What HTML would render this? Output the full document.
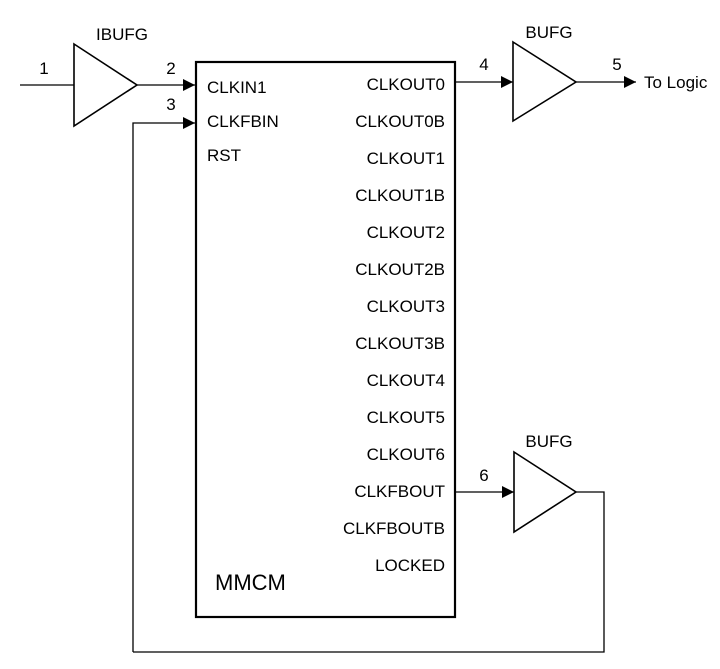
<!DOCTYPE html>
<html><head><style>html,body{margin:0;padding:0;background:#fff}svg{display:block}</style></head>
<body>
<svg width="720" height="669" viewBox="0 0 720 669" xmlns="http://www.w3.org/2000/svg" font-family="Liberation Sans, Arial, sans-serif" fill="#000">
<defs><marker id="a" viewBox="0 0 10 10" refX="10" refY="5" markerWidth="14" markerHeight="12" markerUnits="userSpaceOnUse" orient="auto"><path d="M0,0L10,5L0,10z" fill="#000"/></marker></defs>
<g stroke="#000" fill="none">
<rect x="196" y="62" width="259" height="555" stroke-width="2.2"/>
<path d="M74,44 L137,85 L74,126 Z" stroke-width="1.6"/>
<path d="M513,42 L576,82 L513,121 Z" stroke-width="1.6"/>
<path d="M514,452 L576,492 L514,532 Z" stroke-width="1.6"/>
<g stroke-width="1.3">
<line x1="20" y1="85" x2="74" y2="85"/>
<line x1="137" y1="85" x2="195" y2="85" marker-end="url(#a)"/>
<polyline points="133,652 133,123 195,123" marker-end="url(#a)"/>
<line x1="455" y1="82" x2="513" y2="82" marker-end="url(#a)"/>
<line x1="576" y1="82" x2="636" y2="82" marker-end="url(#a)"/>
<line x1="455" y1="492" x2="514" y2="492" marker-end="url(#a)"/>
<polyline points="576,492 604,492 604,652 133,652"/>
</g>
</g>
<g font-size="17">
<text x="44" y="74" text-anchor="middle">1</text>
<text x="171" y="74" text-anchor="middle">2</text>
<text x="171" y="110" text-anchor="middle">3</text>
<text x="484" y="70" text-anchor="middle">4</text>
<text x="617" y="70" text-anchor="middle">5</text>
<text x="484" y="481" text-anchor="middle">6</text>
<text x="122" y="40" text-anchor="middle">IBUFG</text>
<text x="549" y="38" text-anchor="middle">BUFG</text>
<text x="549" y="447" text-anchor="middle">BUFG</text>
<text x="644" y="88">To Logic</text>
<text x="207" y="93">CLKIN1</text>
<text x="207" y="127">CLKFBIN</text>
<text x="207" y="161">RST</text>
<g text-anchor="end">
<text x="445" y="90">CLKOUT0</text>
<text x="445" y="127">CLKOUT0B</text>
<text x="445" y="164">CLKOUT1</text>
<text x="445" y="201">CLKOUT1B</text>
<text x="445" y="238">CLKOUT2</text>
<text x="445" y="275">CLKOUT2B</text>
<text x="445" y="312">CLKOUT3</text>
<text x="445" y="349">CLKOUT3B</text>
<text x="445" y="386">CLKOUT4</text>
<text x="445" y="423">CLKOUT5</text>
<text x="445" y="460">CLKOUT6</text>
<text x="445" y="497">CLKFBOUT</text>
<text x="445" y="534">CLKFBOUTB</text>
<text x="445" y="571">LOCKED</text>
</g>
</g>
<text x="215" y="590" font-size="22">MMCM</text>
</svg>
</body></html>
